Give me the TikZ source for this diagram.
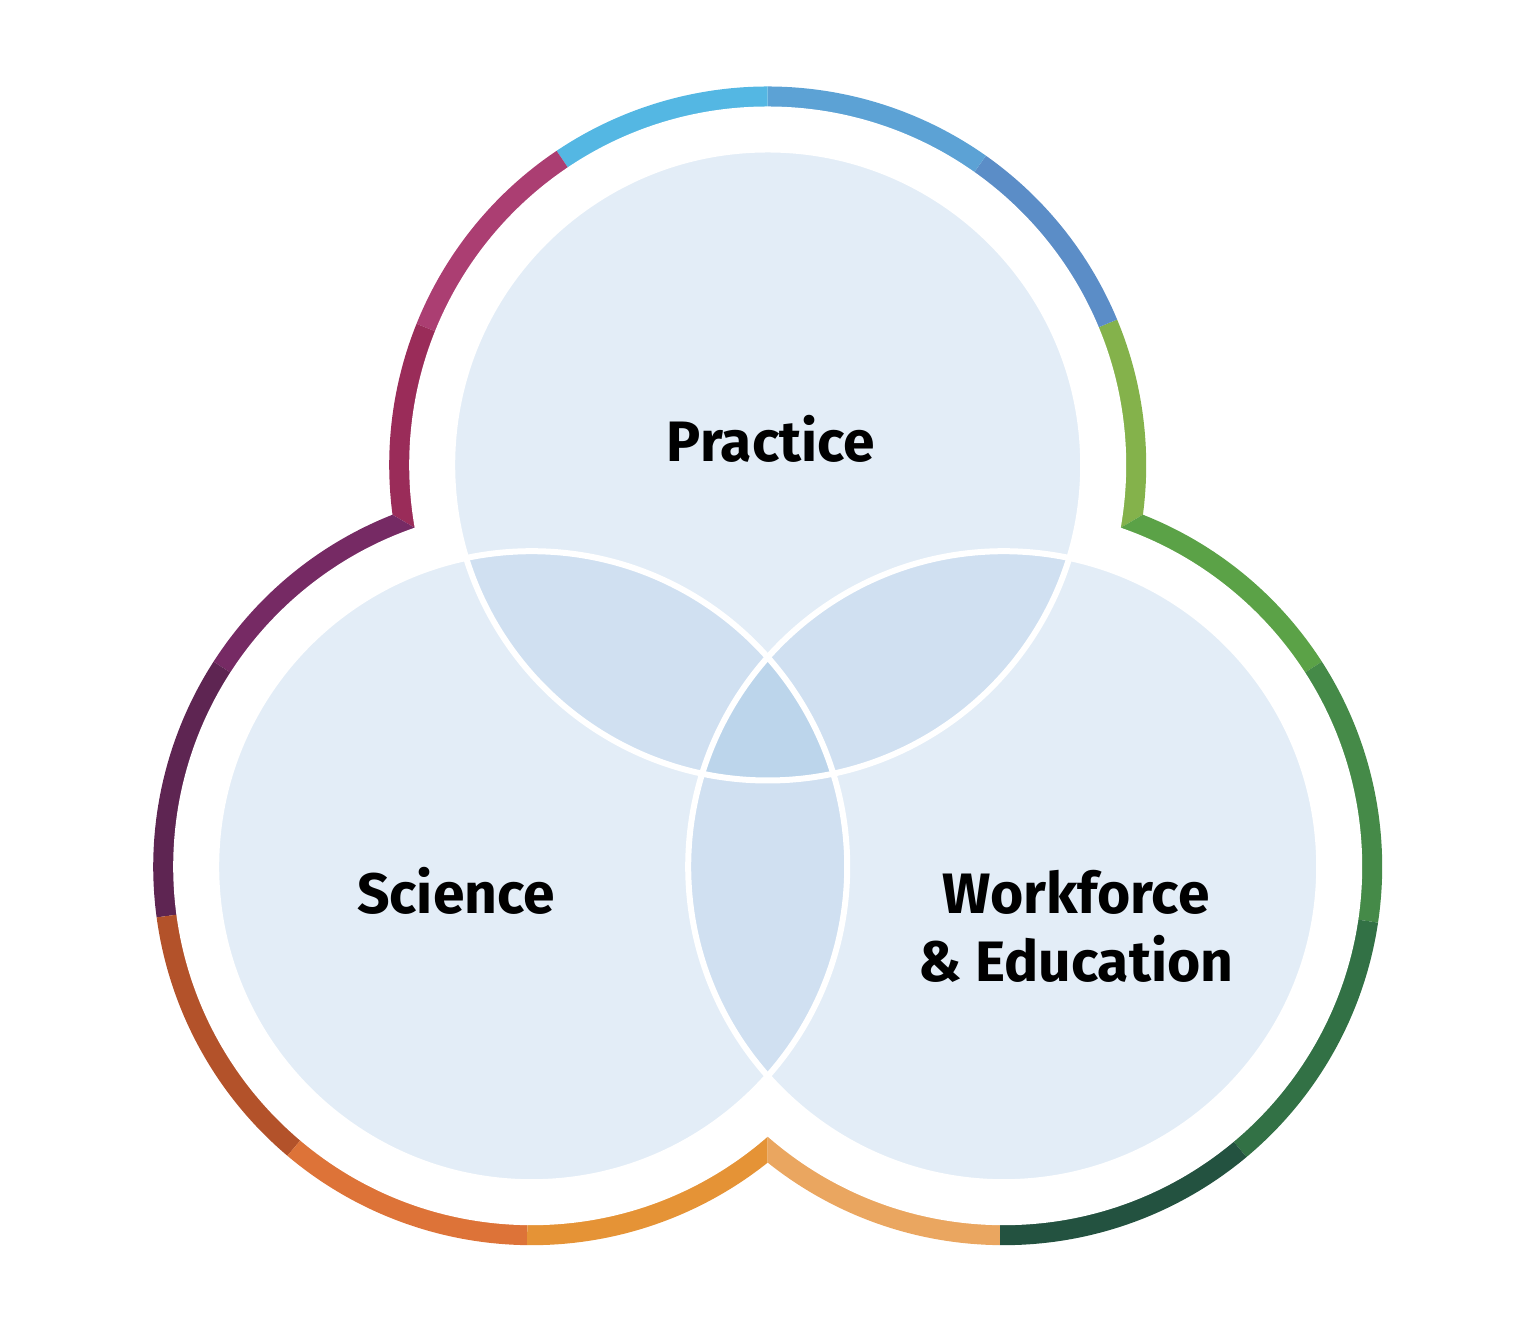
\documentclass[tikz,border=0pt]{standalone}
\usepackage{fontspec}
\setmainfont{Fira Sans}
\usetikzlibrary{calc}

\definecolor{vennbase}{HTML}{E3EDF7}
\definecolor{venntwo}{HTML}{D0E0F1}
\definecolor{vennthree}{HTML}{BCD5EB}
\definecolor{segsky}{HTML}{54B7E3}
\definecolor{segblue}{HTML}{5CA2D5}
\definecolor{segsteel}{HTML}{5B8DC7}
\definecolor{seglime}{HTML}{84B24B}
\definecolor{segmagenta}{HTML}{AB3E72}
\definecolor{segcrimson}{HTML}{9A2C59}
\definecolor{segplum}{HTML}{762A64}
\definecolor{segaubergine}{HTML}{5E2552}
\definecolor{segrust}{HTML}{B3522A}
\definecolor{segtangerine}{HTML}{DD7338}
\definecolor{segamber}{HTML}{E59336}
\definecolor{segleaf}{HTML}{5BA247}
\definecolor{segfield}{HTML}{458A48}
\definecolor{segforest}{HTML}{327145}
\definecolor{segpine}{HTML}{235240}
\definecolor{segapricot}{HTML}{EAA660}

\newcommand{\ringseg}[4]{\fill[#4] (#1) -- ++(#2:378.5) arc[start angle=#2,end angle=#3,radius=378.5] -- cycle;}

\begin{document}
\begin{tikzpicture}[x=0.5pt,y=0.5pt,
    areaname/.style={font=\bfseries\fontsize{28.5}{34}\selectfont,align=center},
    rim/.style={white,line width=3pt}]
      \useasboundingbox (0,0) rectangle (1536,1332);
      \coordinate (cT) at (767.7,867);
      \coordinate (cL) at (531.7,465.3);
      \coordinate (cR) at (1003.7,465.3);
      \coordinate (O) at (767.7,596.8);
      \coordinate (mTL) at ($(cT)!0.5!(cL)$);
      \coordinate (mTR) at ($(cT)!0.5!(cR)$);
      \coordinate (mLR) at ($(cL)!0.5!(cR)$);
      \coordinate (fTL) at ($(O)!20!(mTL)$);
      \coordinate (fTR) at ($(O)!20!(mTR)$);
      \coordinate (fLR) at ($(O)!20!(mLR)$);

      % outer ring
      \begin{scope}
        \clip (O) -- (fTL) -- (fTR) -- cycle;
        \ringseg{cT}{-70}{22.6}{seglime}
        \ringseg{cT}{22.6}{54.8}{segsteel}
        \ringseg{cT}{54.8}{90}{segblue}
        \ringseg{cT}{90}{123.9}{segsky}
        \ringseg{cT}{123.9}{158.1}{segmagenta}
        \ringseg{cT}{158.1}{250}{segcrimson}
      \end{scope}
      \begin{scope}
        \clip (O) -- (fTL) -- (fLR) -- cycle;
        \ringseg{cL}{60}{147.2}{segplum}
        \ringseg{cL}{147.2}{187.7}{segaubergine}
        \ringseg{cL}{187.7}{229.8}{segrust}
        \ringseg{cL}{229.8}{269.3}{segtangerine}
        \ringseg{cL}{269.3}{360}{segamber}
      \end{scope}
      \begin{scope}
        \clip (O) -- (fTR) -- (fLR) -- cycle;
        \ringseg{cR}{32.8}{120}{segleaf}
        \ringseg{cR}{-8.5}{32.8}{segfield}
        \ringseg{cR}{-50.1}{-8.5}{segforest}
        \ringseg{cR}{-90.6}{-50.1}{segpine}
        \ringseg{cR}{-180}{-90.6}{segapricot}
      \end{scope}
      \fill[white] (cT) circle[radius=358.5];
      \fill[white] (cL) circle[radius=358.5];
      \fill[white] (cR) circle[radius=358.5];

      % venn
      \fill[vennbase] (cT) circle[radius=315.5];
      \fill[vennbase] (cL) circle[radius=315.5];
      \fill[vennbase] (cR) circle[radius=315.5];
      \begin{scope}
        \clip (cT) circle[radius=315.5];
        \fill[venntwo] (cL) circle[radius=315.5];
        \fill[venntwo] (cR) circle[radius=315.5];
      \end{scope}
      \begin{scope}
        \clip (cL) circle[radius=315.5];
        \fill[venntwo] (cR) circle[radius=315.5];
      \end{scope}
      \begin{scope}
        \clip (cT) circle[radius=315.5];
        \clip (cL) circle[radius=315.5];
        \fill[vennthree] (cR) circle[radius=315.5];
      \end{scope}
      \draw[rim] (cT) circle[radius=315.5];
      \draw[rim] (cL) circle[radius=315.5];
      \draw[rim] (cR) circle[radius=315.5];

      \draw (771,893) node[areaname] (practice) {Practice};
      \draw (456,441) node[areaname] (science) {Science};
      \draw (1076,406) node[areaname] (workforce) {Workforce\\\& Education};
    \end{tikzpicture}
\end{document}
